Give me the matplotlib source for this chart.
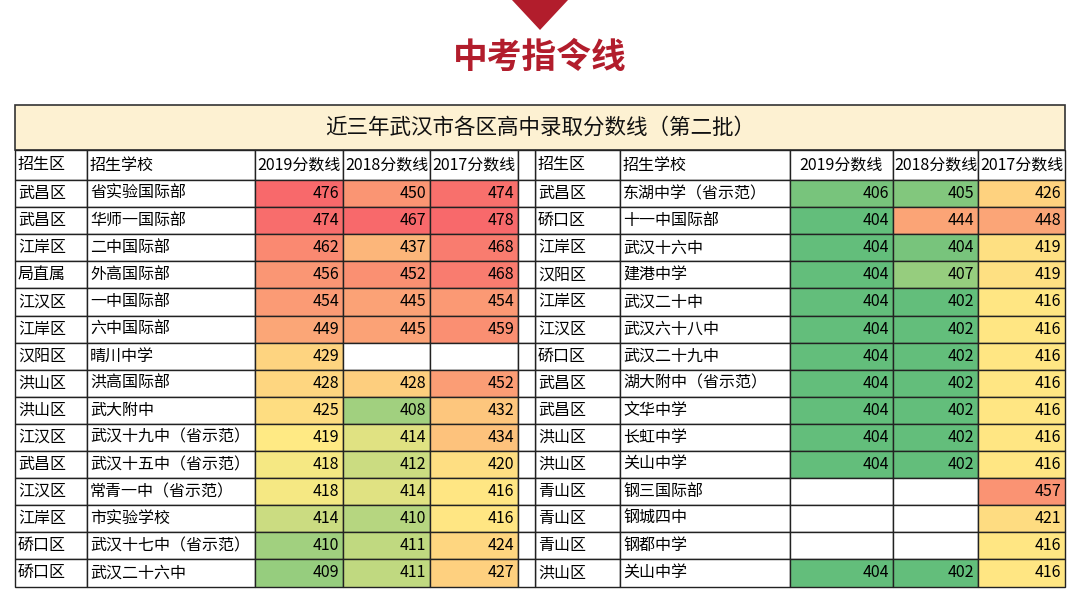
import matplotlib
matplotlib.use("Agg")
import matplotlib.pyplot as plt
import numpy as np
from matplotlib.colors import LinearSegmentedColormap

plt.rcParams["font.family"] = ["Noto Sans CJK SC", "DejaVu Sans"]

HEADERS = ["招生区", "招生学校", "2019分数线", "2018分数线", "2017分数线"]

LEFT_DISTRICT = ["武昌区", "武昌区", "江岸区", "局直属", "江汉区", "江岸区", "汉阳区", "洪山区",
                 "洪山区", "江汉区", "武昌区", "江汉区", "江岸区", "硚口区", "硚口区"]
LEFT_SCHOOL = ["省实验国际部", "华师一国际部", "二中国际部", "外高国际部", "一中国际部", "六中国际部",
               "晴川中学", "洪高国际部", "武大附中", "武汉十九中（省示范）", "武汉十五中（省示范）",
               "常青一中（省示范）", "市实验学校", "武汉十七中（省示范）", "武汉二十六中"]
LEFT_2019 = [476, 474, 462, 456, 454, 449, 429, 428, 425, 419, 418, 418, 414, 410, 409]
LEFT_2018 = [450, 467, 437, 452, 445, 445, None, 428, 408, 414, 412, 414, 410, 411, 411]
LEFT_2017 = [474, 478, 468, 468, 454, 459, None, 452, 432, 434, 420, 416, 416, 424, 427]

RIGHT_DISTRICT = ["武昌区", "硚口区", "江岸区", "汉阳区", "江岸区", "江汉区", "硚口区", "武昌区",
                  "武昌区", "洪山区", "洪山区", "青山区", "青山区", "青山区", "洪山区"]
RIGHT_SCHOOL = ["东湖中学（省示范）", "十一中国际部", "武汉十六中", "建港中学", "武汉二十中",
                "武汉六十八中", "武汉二十九中", "湖大附中（省示范）", "文华中学", "长虹中学",
                "关山中学", "钢三国际部", "钢城四中", "钢都中学", "关山中学"]
RIGHT_2019 = [406, 404, 404, 404, 404, 404, 404, 404, 404, 404, 404, None, None, None, 404]
RIGHT_2018 = [405, 444, 404, 407, 402, 402, 402, 402, 402, 402, 402, None, None, None, 402]
RIGHT_2017 = [426, 448, 419, 419, 416, 416, 416, 416, 416, 416, 416, 457, 421, 416, 416]

RED = "#b21d2c"
cmap = LinearSegmentedColormap.from_list("ryg", ["#63BE7B", "#FFEB84", "#F8696B"])

# colour-scale anchors (low, mid, high) per year column
SCALE_ANCHORS = [(404, 419, 476), (402, 417, 467), (400, 414, 478)]


def colfun(lo, mid, hi):
    def f(x):
        if x <= mid:
            t = 0.5 * (x - lo) / (mid - lo)
        else:
            t = 0.5 + 0.5 * (x - mid) / (hi - mid)
        return cmap(min(max(t, 0), 1))
    return f


scales = [colfun(*a) for a in SCALE_ANCHORS]

fig = plt.figure(figsize=(10.8, 6.08), dpi=100)
ax = fig.add_axes([0, 0, 1, 1])
ax.axis("off")
ax.set_xlim(0, 1080)
ax.set_ylim(608, 0)

# top banner
ax.fill([512, 568, 540], [0, 0, 30], color=RED, lw=0)
ax.text(540, 57, "中考指令线", color=RED, fontsize=25, fontweight="heavy",
        ha="center", va="center")

# title row
x0, x1 = 15, 1065
ax.add_patch(plt.Rectangle((x0, 105), x1 - x0, 45, facecolor="#fdf1d2",
                           edgecolor="#333333", lw=1.2))
ax.text(540, 128, "近三年武汉市各区高中录取分数线（第二批）", fontsize=15.5,
        ha="center", va="center", color="#111111")

left_x = [15, 87, 255, 343, 430, 518]
right_x = [535, 620, 790, 893, 978, 1065]
y_head, row_h = 150, 27.1
fs = 11.5


def draw_block(xs, dist, school, ys):
    cols = [dist, school] + list(ys)
    for c in range(5):
        ax.add_patch(plt.Rectangle((xs[c], y_head), xs[c + 1] - xs[c], 30,
                                   facecolor="white", edgecolor="#222222", lw=1))
        ax.text(xs[c] + 3 if c < 2 else (xs[c] + xs[c + 1]) / 2, y_head + 15,
                HEADERS[c], fontsize=fs, va="center",
                ha="left" if c < 2 else "center")
    for r in range(len(dist)):
        y = y_head + 30 + r * row_h
        for c in range(5):
            val = cols[c][r]
            fc = "white"
            if c >= 2 and val is not None:
                fc = scales[c - 2](val)
            ax.add_patch(plt.Rectangle((xs[c], y), xs[c + 1] - xs[c], row_h,
                                       facecolor=fc, edgecolor="#222222", lw=1))
            if val is None:
                continue
            if c < 2:
                ax.text(xs[c] + 3, y + row_h / 2, val, fontsize=fs, va="center")
            else:
                ax.text(xs[c + 1] - 4, y + row_h / 2, str(val), fontsize=fs,
                        va="center", ha="right")


draw_block(left_x, LEFT_DISTRICT, LEFT_SCHOOL, [LEFT_2019, LEFT_2018, LEFT_2017])
draw_block(right_x, RIGHT_DISTRICT, RIGHT_SCHOOL, [RIGHT_2019, RIGHT_2018, RIGHT_2017])
# gap column
for r in range(16):
    y = y_head if r == 0 else y_head + 30 + (r - 1) * row_h
    h = 30 if r == 0 else row_h
    ax.add_patch(plt.Rectangle((518, y), 17, h, facecolor="white",
                               edgecolor="#222222", lw=1))

fig.savefig("out.png", dpi=100, facecolor="white")
